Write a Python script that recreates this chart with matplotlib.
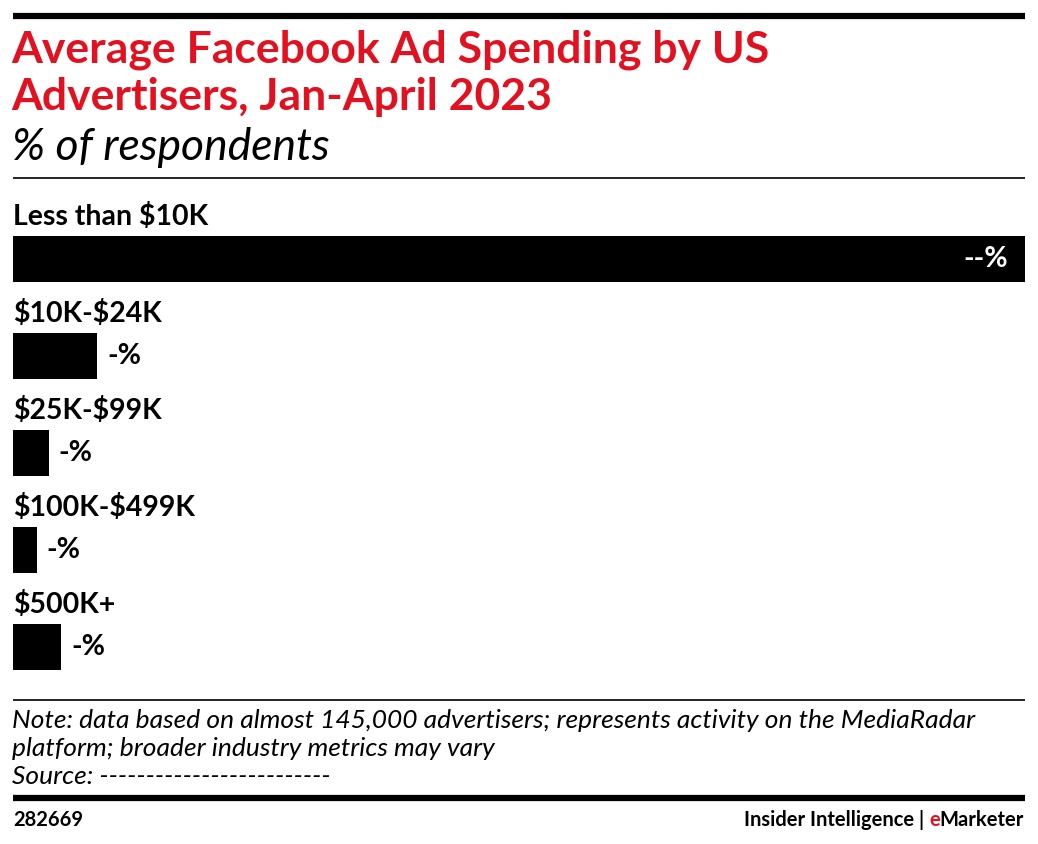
import matplotlib.pyplot as plt
from matplotlib.lines import Line2D

plt.rcParams["text.parse_math"] = False

categories = ["Less than $10K", "$10K-$24K", "$25K-$99K", "$100K-$499K", "$500K+"]
values = [84, 7, 3, 2, 4]
value_labels = ["--%", "-%", "-%", "-%", "-%"]

RED = "#e3101f"
W, H = 1038, 844
FONT = "Lato"

fig = plt.figure(figsize=(W / 100, H / 100), dpi=100)


def px(x, y):
    return x / W, 1 - y / H


def hline(y, lw):
    x0, yy = px(13, y)
    x1, _ = px(1025, y)
    fig.add_artist(Line2D([x0, x1], [yy, yy], color="black", lw=lw,
                          transform=fig.transFigure, solid_capstyle="butt"))


hline(16, 4.5)
hline(178, 1.2)
hline(700, 1.2)
hline(798, 4.5)

# title block
fig.text(*px(11, 50), "Average Facebook Ad Spending by US", color=RED,
         fontsize=32, fontweight="bold", family=FONT, va="center")
fig.text(*px(11, 97), "Advertisers, Jan-April 2023", color=RED,
         fontsize=32, fontweight="bold", family=FONT, va="center")
fig.text(*px(12, 147), "% of respondents", color="black",
         fontsize=32, style="italic", family=FONT, va="center")

# bars
ax = fig.add_axes([13 / W, 1 - 700 / H, (1025 - 13) / W, (700 - 180) / H])
y = list(range(len(categories)))
ax.barh(y, values, height=0.474, color="black")
ax.set_xlim(0, max(values))
ax.set_ylim((700 - 259) / 97, (180 - 259) / 97)
ax.axis("off")

for i, (cat, v, lab) in enumerate(zip(categories, values, value_labels)):
    ax.text(0, i - 0.44, cat, fontsize=20.5, fontweight="bold", family=FONT,
            va="center", ha="left")
    if i == 0:
        ax.annotate(lab, (v, i), xytext=(-12, 0), textcoords="offset points",
                    color="white", fontsize=20.5, fontweight="bold", family=FONT,
                    va="center", ha="right")
    else:
        ax.annotate(lab, (v, i), xytext=(7, 0), textcoords="offset points",
                    color="black", fontsize=20.5, fontweight="bold", family=FONT,
                    va="center", ha="left")

# notes
notes = ["Note: data based on almost 145,000 advertisers; represents activity on the MediaRadar",
         "platform; broader industry metrics may vary",
         "Source: -------------------------"]
for k, line in enumerate(notes):
    fig.text(*px(12, 721 + 27.5 * k), line, fontsize=19, style="italic",
             family=FONT, va="center")

# footer
fig.text(*px(13, 820), "282669", fontsize=14.5, fontweight="bold", family=FONT, va="center")
t_mk = fig.text(*px(1024, 820), "Marketer", fontsize=14.5, fontweight="bold",
                family=FONT, va="center", ha="right")
t_e = ax.annotate("e", xy=(0, 0.5), xycoords=t_mk, color=RED, fontsize=14.5,
                  fontweight="bold", family=FONT, va="center", ha="right",
                  annotation_clip=False)
ax.annotate("Insider Intelligence | ", xy=(0, 0.5), xycoords=t_e, fontsize=14.5,
            fontweight="bold", family=FONT, va="center", ha="right",
            annotation_clip=False)

fig.savefig("out.png", dpi=100)
